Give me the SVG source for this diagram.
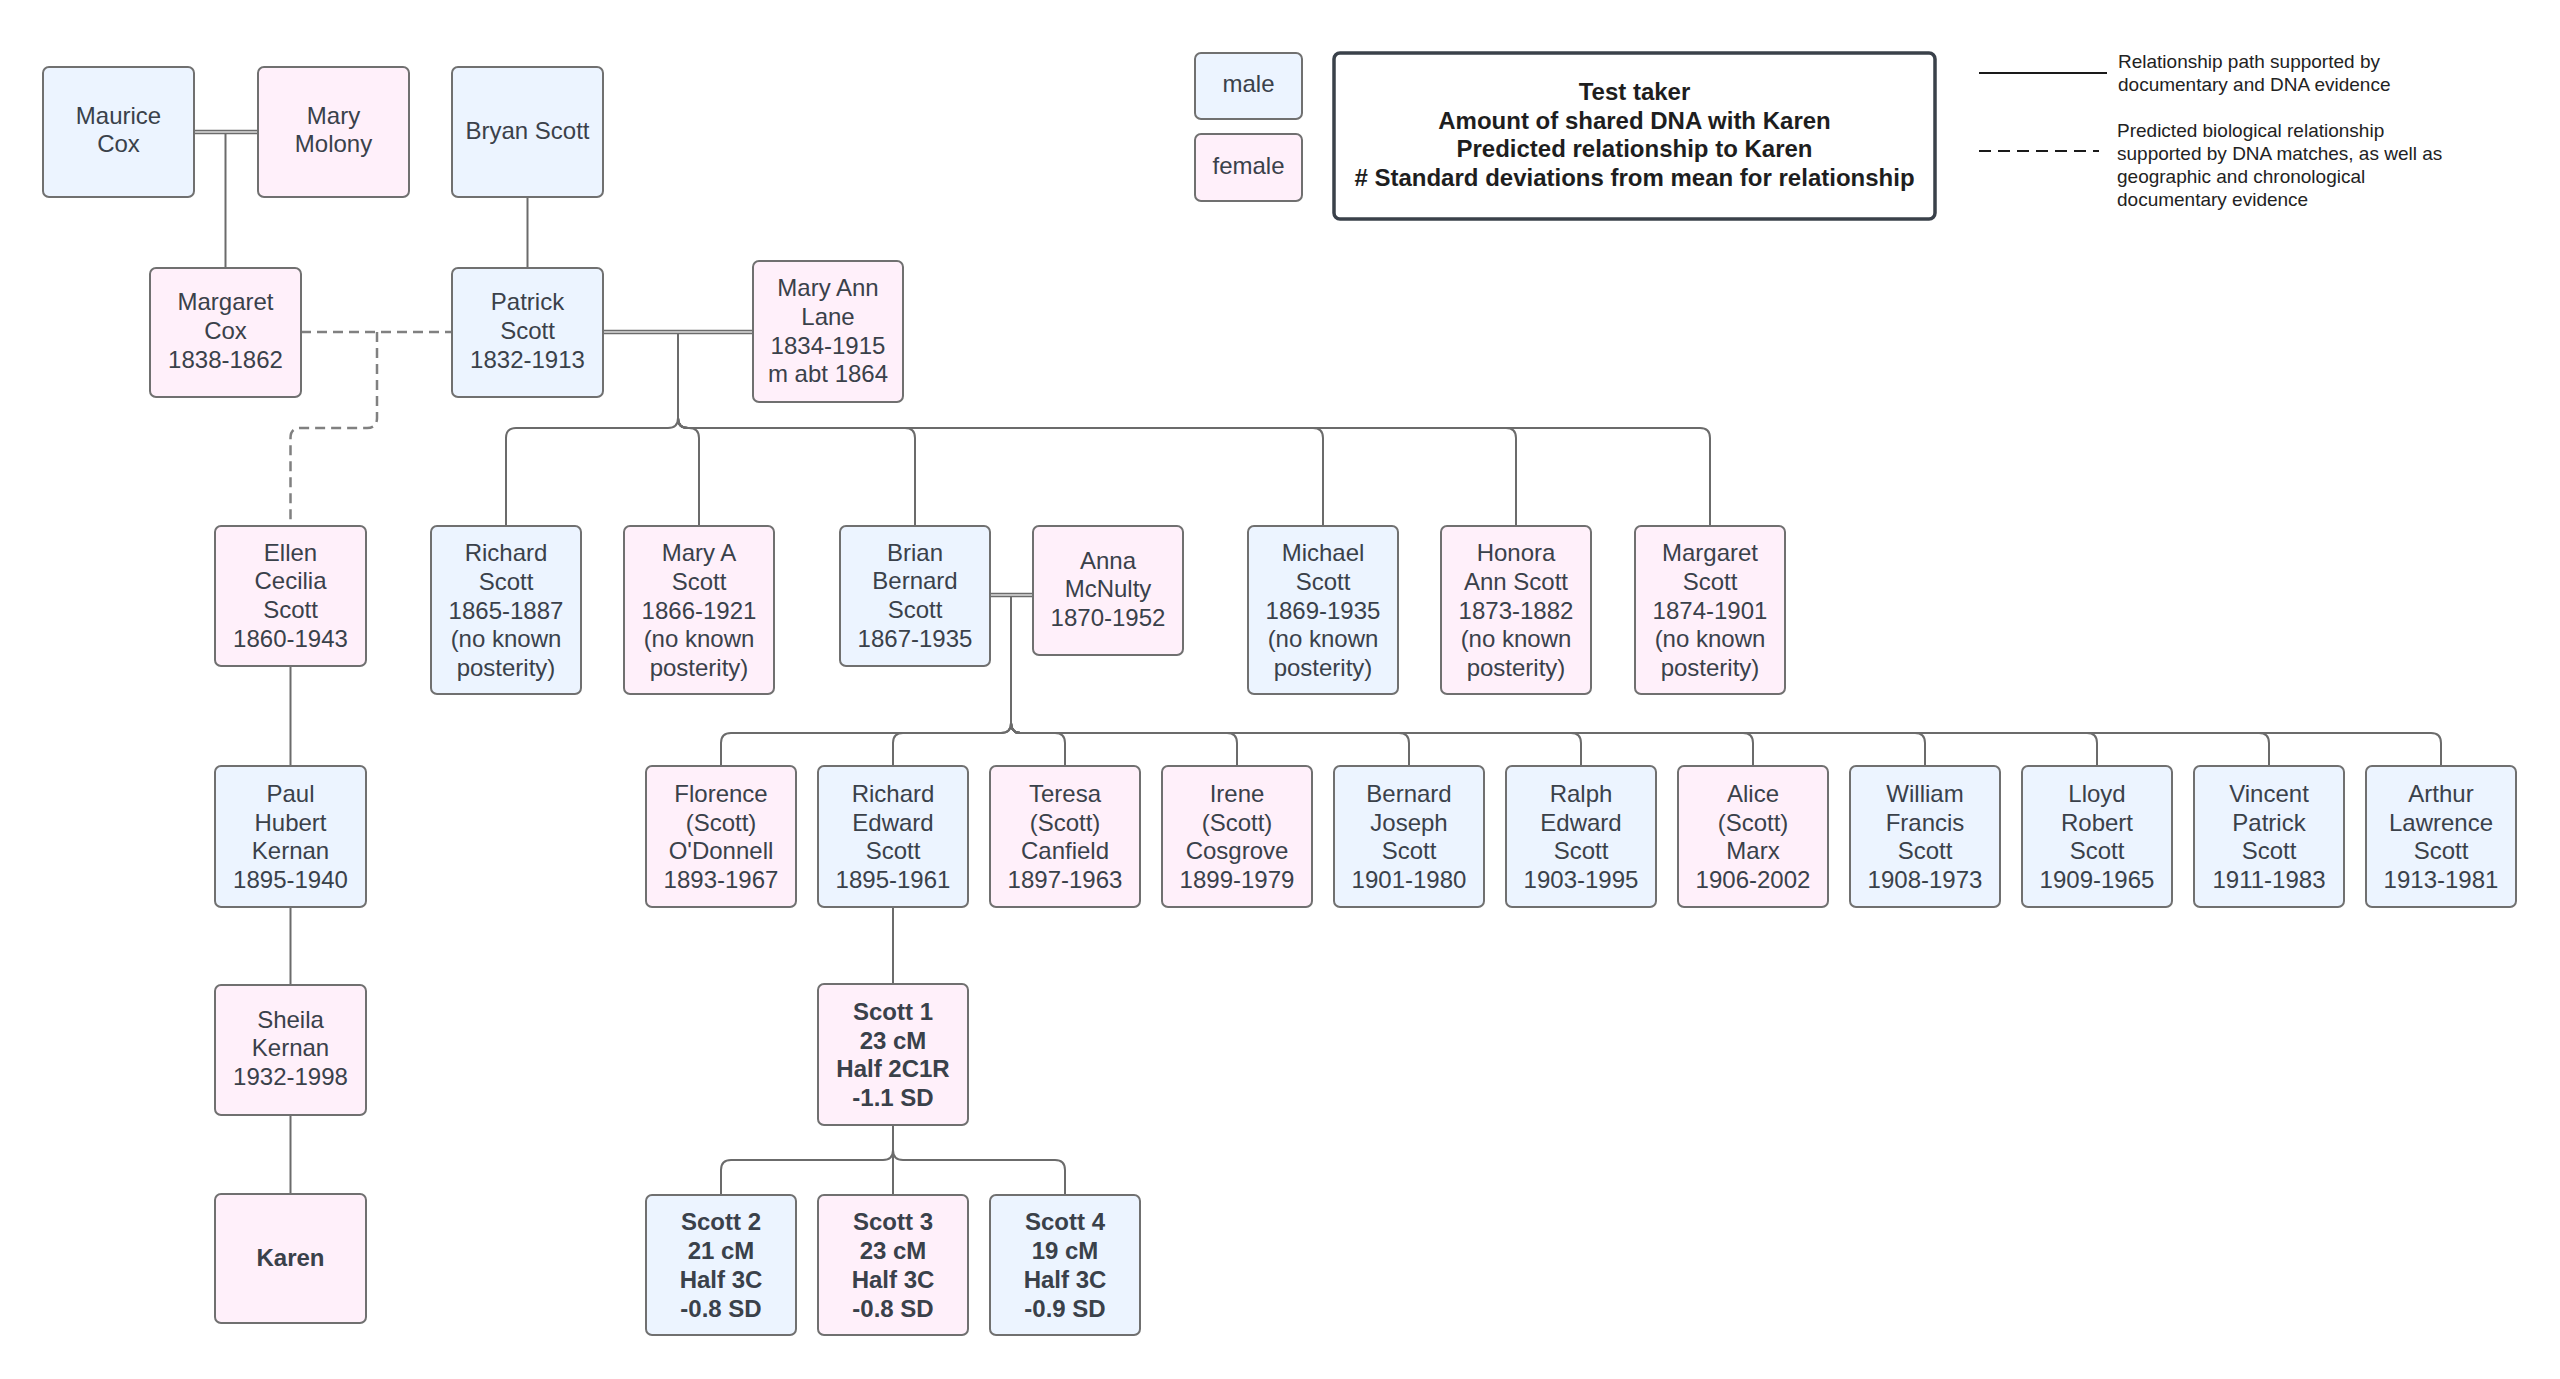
<svg xmlns="http://www.w3.org/2000/svg" width="2560" height="1379" viewBox="0 0 2560 1379">
<style>
  .box { stroke: #707070; stroke-width: 2; }
  .m { fill: #ecf4ff; }
  .f { fill: #fff0fa; }
  .t { font-family: "Liberation Sans", Arial, sans-serif; font-size: 24px; fill: #3a414a; text-anchor: middle; }
  .b { font-weight: bold; }
  .conn { fill: none; stroke: #6b6b6b; stroke-width: 2; }
  .dash { fill: none; stroke: #808080; stroke-width: 2.5; stroke-dasharray: 10 6; }
  .dbl-o { stroke: #6b6b6b; stroke-width: 4.5; }
  .dbl-i { stroke: #dcdcdc; stroke-width: 1.4; }
  .leg { font-family: "Liberation Sans", Arial, sans-serif; font-size: 19px; fill: #222; }
  .legt { font-family: "Liberation Sans", Arial, sans-serif; font-size: 24px; font-weight: bold; fill: #1e1e1e; text-anchor: middle; }
</style>
<rect width="2560" height="1379" fill="#ffffff"/>

<g id="connectors">
  <!-- couples -->
  <line class="dbl-o" x1="194" y1="132" x2="258" y2="132"/>
  <line class="dbl-i" x1="194" y1="132" x2="258" y2="132"/>
  <line class="dbl-o" x1="603" y1="332" x2="753" y2="332"/>
  <line class="dbl-i" x1="603" y1="332" x2="753" y2="332"/>
  <line class="dbl-o" x1="990" y1="595" x2="1033" y2="595"/>
  <line class="dbl-i" x1="990" y1="595" x2="1033" y2="595"/>
  <!-- Cox -> Margaret -->
  <path class="conn" d="M225.5,134 V268"/>
  <!-- Bryan -> Patrick -->
  <path class="conn" d="M527.5,197 V268"/>
  <!-- Margaret Cox - Patrick (dashed) -->
  <path class="dash" d="M301,332 H452"/>
  <path class="dash" d="M377,332 V418 Q377,428 367,428 H300.5 Q290.5,428 290.5,438 V526"/>
  <!-- Patrick + Mary Ann -> children -->
  <path class="conn" d="M678,334 V418 Q678,428 668,428 H516 Q506,428 506,438 V526"/>
  <path class="conn" d="M678,334 V418 Q678,428 688,428 H689 Q699,428 699,438 V526"/>
  <path class="conn" d="M678,334 V418 Q678,428 688,428 H905 Q915,428 915,438 V526"/>
  <path class="conn" d="M678,334 V418 Q678,428 688,428 H1313 Q1323,428 1323,438 V526"/>
  <path class="conn" d="M678,334 V418 Q678,428 688,428 H1506 Q1516,428 1516,438 V526"/>
  <path class="conn" d="M678,334 V418 Q678,428 688,428 H1700 Q1710,428 1710,438 V526"/>
  <!-- Ellen line -->
  <path class="conn" d="M290.5,666 V766"/>
  <path class="conn" d="M290.5,907 V985"/>
  <path class="conn" d="M290.5,1115 V1194"/>
  <!-- Brian + Anna -> children -->
  <path class="conn" d="M1011,597 V723 Q1011,733 1001,733 H731 Q721,733 721,743 V766"/>
  <path class="conn" d="M1011,597 V723 Q1011,733 1001,733 H903 Q893,733 893,743 V766"/>
  <path class="conn" d="M1011,597 V723 Q1011,733 1021,733 H1055 Q1065,733 1065,743 V766"/>
  <path class="conn" d="M1011,597 V723 Q1011,733 1021,733 H1227 Q1237,733 1237,743 V766"/>
  <path class="conn" d="M1011,597 V723 Q1011,733 1021,733 H1399 Q1409,733 1409,743 V766"/>
  <path class="conn" d="M1011,597 V723 Q1011,733 1021,733 H1571 Q1581,733 1581,743 V766"/>
  <path class="conn" d="M1011,597 V723 Q1011,733 1021,733 H1743 Q1753,733 1753,743 V766"/>
  <path class="conn" d="M1011,597 V723 Q1011,733 1021,733 H1915 Q1925,733 1925,743 V766"/>
  <path class="conn" d="M1011,597 V723 Q1011,733 1021,733 H2087 Q2097,733 2097,743 V766"/>
  <path class="conn" d="M1011,597 V723 Q1011,733 1021,733 H2259 Q2269,733 2269,743 V766"/>
  <path class="conn" d="M1011,597 V723 Q1011,733 1021,733 H2431 Q2441,733 2441,743 V766"/>
  <!-- Richard Edward -> Scott 1 -->
  <path class="conn" d="M893,907 V984"/>
  <!-- Scott 1 -> Scott 2,3,4 -->
  <path class="conn" d="M893,1125 V1150 Q893,1160 883,1160 H731 Q721,1160 721,1170 V1195"/>
  <path class="conn" d="M893,1125 V1195"/>
  <path class="conn" d="M893,1125 V1150 Q893,1160 903,1160 H1055 Q1065,1160 1065,1170 V1195"/>
</g>

<g id="maurice-cox"><rect class="box m" x="43" y="67" width="151" height="130" rx="6"/>
  <text class="t" x="118.5" y="123.5">Maurice<tspan x="118.5" dy="28.8">Cox</tspan></text></g>
<g id="mary-molony"><rect class="box f" x="258" y="67" width="151" height="130" rx="6"/>
  <text class="t" x="333.5" y="123.5">Mary<tspan x="333.5" dy="28.8">Molony</tspan></text></g>
<g id="bryan-scott"><rect class="box m" x="452" y="67" width="151" height="130" rx="6"/>
  <text class="t" x="527.5" y="138.5">Bryan Scott</text></g>
<g id="margaret-cox"><rect class="box f" x="150" y="268" width="151" height="129" rx="6"/>
  <text class="t" x="225.5" y="310">Margaret<tspan x="225.5" dy="28.8">Cox</tspan><tspan x="225.5" dy="28.8">1838-1862</tspan></text></g>
<g id="patrick-scott"><rect class="box m" x="452" y="268" width="151" height="129" rx="6"/>
  <text class="t" x="527.5" y="310">Patrick<tspan x="527.5" dy="28.8">Scott</tspan><tspan x="527.5" dy="28.8">1832-1913</tspan></text></g>
<g id="mary-ann-lane"><rect class="box f" x="753" y="261" width="150" height="141" rx="6"/>
  <text class="t" x="828" y="296">Mary Ann<tspan x="828" dy="28.8">Lane</tspan><tspan x="828" dy="28.8">1834-1915</tspan><tspan x="828" dy="28.8">m abt 1864</tspan></text></g>

<g id="ellen-scott"><rect class="box f" x="215" y="526" width="151" height="140" rx="6"/>
  <text class="t" x="290.5" y="560.5">Ellen<tspan x="290.5" dy="28.8">Cecilia</tspan><tspan x="290.5" dy="28.8">Scott</tspan><tspan x="290.5" dy="28.8">1860-1943</tspan></text></g>
<g id="richard-scott"><rect class="box m" x="431" y="526" width="150" height="168" rx="6"/>
  <text class="t" x="506" y="560.9">Richard<tspan x="506" dy="28.8">Scott</tspan><tspan x="506" dy="28.8">1865-1887</tspan><tspan x="506" dy="28.8">(no known</tspan><tspan x="506" dy="28.8">posterity)</tspan></text></g>
<g id="mary-a-scott"><rect class="box f" x="624" y="526" width="150" height="168" rx="6"/>
  <text class="t" x="699" y="560.9">Mary A<tspan x="699" dy="28.8">Scott</tspan><tspan x="699" dy="28.8">1866-1921</tspan><tspan x="699" dy="28.8">(no known</tspan><tspan x="699" dy="28.8">posterity)</tspan></text></g>
<g id="brian-scott"><rect class="box m" x="840" y="526" width="150" height="140" rx="6"/>
  <text class="t" x="915" y="560.5">Brian<tspan x="915" dy="28.8">Bernard</tspan><tspan x="915" dy="28.8">Scott</tspan><tspan x="915" dy="28.8">1867-1935</tspan></text></g>
<g id="anna-mcnulty"><rect class="box f" x="1033" y="526" width="150" height="129" rx="6"/>
  <text class="t" x="1108" y="568.5">Anna<tspan x="1108" dy="28.8">McNulty</tspan><tspan x="1108" dy="28.8">1870-1952</tspan></text></g>
<g id="michael-scott"><rect class="box m" x="1248" y="526" width="150" height="168" rx="6"/>
  <text class="t" x="1323" y="560.9">Michael<tspan x="1323" dy="28.8">Scott</tspan><tspan x="1323" dy="28.8">1869-1935</tspan><tspan x="1323" dy="28.8">(no known</tspan><tspan x="1323" dy="28.8">posterity)</tspan></text></g>
<g id="honora-scott"><rect class="box f" x="1441" y="526" width="150" height="168" rx="6"/>
  <text class="t" x="1516" y="560.9">Honora<tspan x="1516" dy="28.8">Ann Scott</tspan><tspan x="1516" dy="28.8">1873-1882</tspan><tspan x="1516" dy="28.8">(no known</tspan><tspan x="1516" dy="28.8">posterity)</tspan></text></g>
<g id="margaret-scott"><rect class="box f" x="1635" y="526" width="150" height="168" rx="6"/>
  <text class="t" x="1710" y="560.9">Margaret<tspan x="1710" dy="28.8">Scott</tspan><tspan x="1710" dy="28.8">1874-1901</tspan><tspan x="1710" dy="28.8">(no known</tspan><tspan x="1710" dy="28.8">posterity)</tspan></text></g>

<g id="paul-kernan"><rect class="box m" x="215" y="766" width="151" height="141" rx="6"/>
  <text class="t" x="290.5" y="801.8">Paul<tspan x="290.5" dy="28.8">Hubert</tspan><tspan x="290.5" dy="28.8">Kernan</tspan><tspan x="290.5" dy="28.8">1895-1940</tspan></text></g>
<g id="sheila-kernan"><rect class="box f" x="215" y="985" width="151" height="130" rx="6"/>
  <text class="t" x="290.5" y="1027.5">Sheila<tspan x="290.5" dy="28.8">Kernan</tspan><tspan x="290.5" dy="28.8">1932-1998</tspan></text></g>
<g id="karen"><rect class="box f" x="215" y="1194" width="151" height="129" rx="6"/>
  <text class="t b" x="290.5" y="1265.5">Karen</text></g>

<g id="florence"><rect class="box f" x="646" y="766" width="150" height="141" rx="6"/>
  <text class="t" x="721" y="801.8">Florence<tspan x="721" dy="28.8">(Scott)</tspan><tspan x="721" dy="28.8">O'Donnell</tspan><tspan x="721" dy="28.8">1893-1967</tspan></text></g>
<g id="richard-edward"><rect class="box m" x="818" y="766" width="150" height="141" rx="6"/>
  <text class="t" x="893" y="801.8">Richard<tspan x="893" dy="28.8">Edward</tspan><tspan x="893" dy="28.8">Scott</tspan><tspan x="893" dy="28.8">1895-1961</tspan></text></g>
<g id="teresa"><rect class="box f" x="990" y="766" width="150" height="141" rx="6"/>
  <text class="t" x="1065" y="801.8">Teresa<tspan x="1065" dy="28.8">(Scott)</tspan><tspan x="1065" dy="28.8">Canfield</tspan><tspan x="1065" dy="28.8">1897-1963</tspan></text></g>
<g id="irene"><rect class="box f" x="1162" y="766" width="150" height="141" rx="6"/>
  <text class="t" x="1237" y="801.8">Irene<tspan x="1237" dy="28.8">(Scott)</tspan><tspan x="1237" dy="28.8">Cosgrove</tspan><tspan x="1237" dy="28.8">1899-1979</tspan></text></g>
<g id="bernard"><rect class="box m" x="1334" y="766" width="150" height="141" rx="6"/>
  <text class="t" x="1409" y="801.8">Bernard<tspan x="1409" dy="28.8">Joseph</tspan><tspan x="1409" dy="28.8">Scott</tspan><tspan x="1409" dy="28.8">1901-1980</tspan></text></g>
<g id="ralph"><rect class="box m" x="1506" y="766" width="150" height="141" rx="6"/>
  <text class="t" x="1581" y="801.8">Ralph<tspan x="1581" dy="28.8">Edward</tspan><tspan x="1581" dy="28.8">Scott</tspan><tspan x="1581" dy="28.8">1903-1995</tspan></text></g>
<g id="alice"><rect class="box f" x="1678" y="766" width="150" height="141" rx="6"/>
  <text class="t" x="1753" y="801.8">Alice<tspan x="1753" dy="28.8">(Scott)</tspan><tspan x="1753" dy="28.8">Marx</tspan><tspan x="1753" dy="28.8">1906-2002</tspan></text></g>
<g id="william"><rect class="box m" x="1850" y="766" width="150" height="141" rx="6"/>
  <text class="t" x="1925" y="801.8">William<tspan x="1925" dy="28.8">Francis</tspan><tspan x="1925" dy="28.8">Scott</tspan><tspan x="1925" dy="28.8">1908-1973</tspan></text></g>
<g id="lloyd"><rect class="box m" x="2022" y="766" width="150" height="141" rx="6"/>
  <text class="t" x="2097" y="801.8">Lloyd<tspan x="2097" dy="28.8">Robert</tspan><tspan x="2097" dy="28.8">Scott</tspan><tspan x="2097" dy="28.8">1909-1965</tspan></text></g>
<g id="vincent"><rect class="box m" x="2194" y="766" width="150" height="141" rx="6"/>
  <text class="t" x="2269" y="801.8">Vincent<tspan x="2269" dy="28.8">Patrick</tspan><tspan x="2269" dy="28.8">Scott</tspan><tspan x="2269" dy="28.8">1911-1983</tspan></text></g>
<g id="arthur"><rect class="box m" x="2366" y="766" width="150" height="141" rx="6"/>
  <text class="t" x="2441" y="801.8">Arthur<tspan x="2441" dy="28.8">Lawrence</tspan><tspan x="2441" dy="28.8">Scott</tspan><tspan x="2441" dy="28.8">1913-1981</tspan></text></g>

<g id="scott-1"><rect class="box f" x="818" y="984" width="150" height="141" rx="6"/>
  <text class="t b" x="893" y="1019.8">Scott 1<tspan x="893" dy="28.8">23 cM</tspan><tspan x="893" dy="28.8">Half 2C1R</tspan><tspan x="893" dy="28.8">-1.1 SD</tspan></text></g>
<g id="scott-2"><rect class="box m" x="646" y="1195" width="150" height="140" rx="6"/>
  <text class="t b" x="721" y="1230.3">Scott 2<tspan x="721" dy="28.8">21 cM</tspan><tspan x="721" dy="28.8">Half 3C</tspan><tspan x="721" dy="28.8">-0.8 SD</tspan></text></g>
<g id="scott-3"><rect class="box f" x="818" y="1195" width="150" height="140" rx="6"/>
  <text class="t b" x="893" y="1230.3">Scott 3<tspan x="893" dy="28.8">23 cM</tspan><tspan x="893" dy="28.8">Half 3C</tspan><tspan x="893" dy="28.8">-0.8 SD</tspan></text></g>
<g id="scott-4"><rect class="box m" x="990" y="1195" width="150" height="140" rx="6"/>
  <text class="t b" x="1065" y="1230.3">Scott 4<tspan x="1065" dy="28.8">19 cM</tspan><tspan x="1065" dy="28.8">Half 3C</tspan><tspan x="1065" dy="28.8">-0.9 SD</tspan></text></g>

<!-- Legend -->
<g id="legend-male"><rect class="box m" x="1195" y="53" width="107" height="66" rx="6"/>
  <text class="t" x="1248.5" y="91.5">male</text></g>
<g id="legend-female"><rect class="box f" x="1195" y="134" width="107" height="67" rx="6"/>
  <text class="t" x="1248.5" y="173.5">female</text></g>
<g id="legend-key"><rect x="1334" y="53" width="601" height="166" rx="6" fill="#ffffff" stroke="#3a414a" stroke-width="3.5"/>
  <text class="legt" x="1634.5" y="100">Test taker<tspan x="1634.5" dy="28.5">Amount of shared DNA with Karen</tspan><tspan x="1634.5" dy="28.5">Predicted relationship to Karen</tspan><tspan x="1634.5" dy="28.5"># Standard deviations from mean for relationship</tspan></text></g>
<g id="legend-lines">
  <line x1="1979" y1="73" x2="2107" y2="73" stroke="#1a1a1a" stroke-width="2"/>
  <text class="leg" x="2118" y="68">Relationship path supported by<tspan x="2118" dy="22.5">documentary and DNA evidence</tspan></text>
  <line x1="1979" y1="151" x2="2099" y2="151" stroke="#1a1a1a" stroke-width="2" stroke-dasharray="12 7"/>
  <text class="leg" x="2117" y="137">Predicted biological relationship<tspan x="2117" dy="23">supported by DNA matches, as well as</tspan><tspan x="2117" dy="23">geographic and chronological</tspan><tspan x="2117" dy="23">documentary evidence</tspan></text>
</g>
</svg>
